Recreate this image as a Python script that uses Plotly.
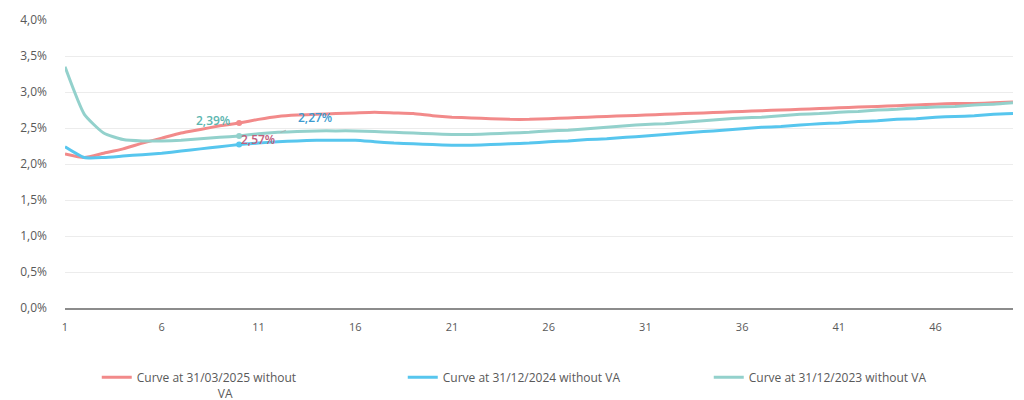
import plotly.graph_objects as go

maturities = [str(i) for i in range(1, 51)]
tick_labels = [str(i) for i in range(1, 51, 5)]

series_names = [
    "Curve at 31/03/2025 without<br>" + "\u00a0" * 26 + "VA",
    "Curve at 31/12/2024 without VA",
    "Curve at 31/12/2023 without VA",
]

curve_2025_03 = [2.14, 2.09, 2.15, 2.21, 2.29, 2.36, 2.43, 2.48, 2.53, 2.57,
                 2.62, 2.66, 2.68, 2.69, 2.70, 2.71, 2.72, 2.71, 2.70, 2.67,
                 2.65, 2.64, 2.63, 2.62, 2.62, 2.63, 2.64, 2.65, 2.66, 2.67,
                 2.68, 2.69, 2.70, 2.71, 2.72, 2.73, 2.74, 2.75, 2.76, 2.77,
                 2.78, 2.79, 2.80, 2.81, 2.82, 2.83, 2.84, 2.84, 2.85, 2.86]

curve_2024_12 = [2.24, 2.09, 2.09, 2.11, 2.13, 2.15, 2.18, 2.21, 2.24, 2.27,
                 2.29, 2.31, 2.32, 2.33, 2.33, 2.33, 2.31, 2.29, 2.28, 2.27,
                 2.26, 2.26, 2.27, 2.28, 2.29, 2.31, 2.32, 2.34, 2.35, 2.37,
                 2.39, 2.41, 2.43, 2.45, 2.47, 2.49, 2.51, 2.52, 2.54, 2.56,
                 2.57, 2.59, 2.60, 2.62, 2.63, 2.65, 2.66, 2.67, 2.69, 2.70]

curve_2023_12 = [3.35, 2.69, 2.43, 2.34, 2.32, 2.32, 2.33, 2.35, 2.37, 2.39,
                 2.42, 2.44, 2.45, 2.46, 2.46, 2.46, 2.45, 2.44, 2.43, 2.42,
                 2.41, 2.41, 2.42, 2.43, 2.44, 2.46, 2.47, 2.49, 2.51, 2.53,
                 2.55, 2.56, 2.58, 2.60, 2.62, 2.64, 2.65, 2.67, 2.69, 2.70,
                 2.72, 2.73, 2.75, 2.76, 2.78, 2.79, 2.80, 2.82, 2.83, 2.85]

colors = ["#f28a8a", "#57c6ee", "#93d1cc"]
label_colors = ["#5cb6b0", "#c0607e", "#3d9bd0"]
highlight_idx = 9

fig = go.Figure()
all_series = [curve_2025_03, curve_2024_12, curve_2023_12]
for name, vals, col in zip(series_names, all_series, colors):
    fig.add_trace(go.Scatter(
        x=maturities, y=vals, mode="lines", name=name,
        line=dict(color=col, width=3, shape="spline", smoothing=0.5),
        hoverinfo="skip",
    ))
for vals, col in zip(all_series, colors):
    fig.add_trace(go.Scatter(
        x=[maturities[highlight_idx]], y=[vals[highlight_idx]], mode="markers",
        marker=dict(color=col, size=6), showlegend=False, hoverinfo="skip",
    ))

# data labels (placed as in the reference)
fmt = lambda v: ("%.2f" % v).replace(".", ",") + "%"
lbl_font = dict(family="Open Sans", size=12, weight=600)
fig.add_annotation(x=maturities[highlight_idx], y=curve_2025_03[highlight_idx],
                   text=fmt(curve_2023_12[highlight_idx]), showarrow=False,
                   xanchor="center", yanchor="middle",
                   xshift=-45, yshift=2, font=dict(color=label_colors[0], **lbl_font))
fig.add_annotation(x=maturities[highlight_idx], y=curve_2023_12[highlight_idx],
                   text=fmt(curve_2025_03[highlight_idx]), showarrow=False,
                   xanchor="center", yanchor="middle",
                   xshift=0, yshift=-4, font=dict(color=label_colors[1], **lbl_font))
fig.add_annotation(x=maturities[highlight_idx], y=curve_2024_12[highlight_idx],
                   text=fmt(curve_2024_12[highlight_idx]), showarrow=True,
                   arrowhead=0, arrowwidth=0.8, arrowcolor="#aaaaaa",
                   standoff=0, startstandoff=12,
                   xanchor="center", yanchor="middle",
                   xshift=22, yshift=12, ax=35, ay=-15,
                   font=dict(color=label_colors[2], **lbl_font))

fig.update_layout(
    width=1024, height=400,
    margin=dict(l=57, r=19, t=12, b=100, autoexpand=False),
    paper_bgcolor="white", plot_bgcolor="white",
    separators=",.",
    font=dict(family="Open Sans", color="#595959"),
    showlegend=True,
    legend=dict(orientation="h", x=0.0335, xanchor="left",
                yref="container", y=0.1125, yanchor="top",
                entrywidth=261, entrywidthmode="pixels", valign="top",
                font=dict(family="Open Sans", size=12, color="#595959"),
                itemwidth=30),
)
fig.update_xaxes(
    type="category", tickmode="array", tickvals=tick_labels, ticktext=tick_labels,
    showgrid=False, showline=True, linecolor="#8c8c8c", linewidth=1.5,
    ticks="", ticklabelstandoff=8, tickfont=dict(size=11, color="#595959"),
    automargin=False,
)
fig.update_yaxes(
    range=[0, 4.0], dtick=0.5, tickformat=".1f", ticksuffix="%",
    showgrid=True, gridcolor="#ececec", gridwidth=1, zeroline=False,
    ticks="", ticklabelstandoff=17, tickfont=dict(size=12, color="#595959"),
    automargin=False,
)

fig.write_html("out.html")
